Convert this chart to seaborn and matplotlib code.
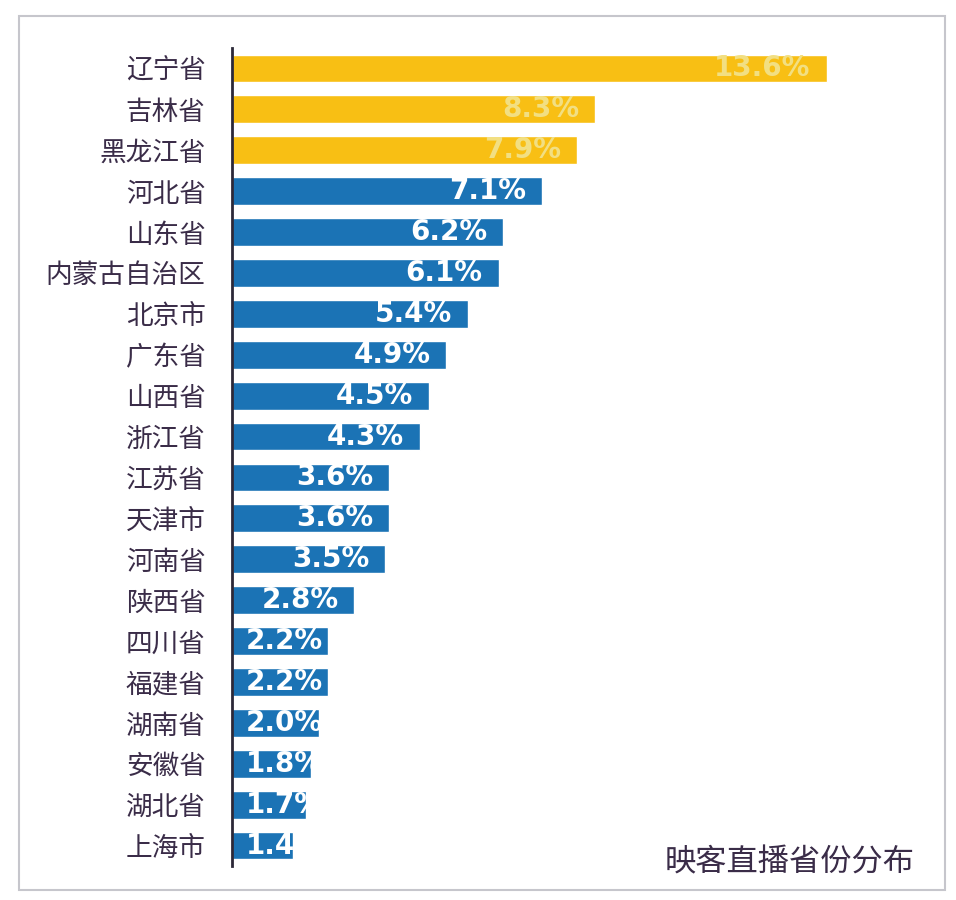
import matplotlib
matplotlib.use("Agg")
import matplotlib.pyplot as plt
import seaborn as sns
import pandas as pd
from matplotlib.patches import Rectangle

provinces = ["辽宁省", "吉林省", "黑龙江省", "河北省", "山东省", "内蒙古自治区", "北京市",
             "广东省", "山西省", "浙江省", "江苏省", "天津市", "河南省", "陕西省",
             "四川省", "福建省", "湖南省", "安徽省", "湖北省", "上海市"]
shares = [13.6, 8.3, 7.9, 7.1, 6.2, 6.1, 5.4, 4.9, 4.5, 4.3, 3.6, 3.6, 3.5, 2.8,
          2.2, 2.2, 2.0, 1.8, 1.7, 1.4]
groups = ["top3"] * 3 + ["other"] * 17
title = "映客直播省份分布"

df = pd.DataFrame({"province": provinces, "share": shares, "group": groups})

sns.set_theme(style="white")
plt.rcParams['font.family'] = ['Noto Sans CJK SC', 'DejaVu Sans']

fig = plt.figure(figsize=(9.56, 9.0), dpi=100)
ax = fig.add_axes([232 / 956, 1 - 866 / 900, 704 / 956, 818 / 900])

palette = {"top3": "#f8bf14", "other": "#1b73b5"}
sns.barplot(data=df, y="province", x="share", hue="group", palette=palette,
            order=provinces, dodge=False, legend=False, width=0.68,
            saturation=1, ax=ax)

ax.set_xlim(0, 16.1)
ax.set_ylim(19.5, -0.5)
ax.set_xlabel("")
ax.set_ylabel("")
ax.set_xticks([])
for s in ["top", "right", "bottom"]:
    ax.spines[s].set_visible(False)
ax.spines["left"].set_color("#2b2838")
ax.spines["left"].set_linewidth(2)
ax.tick_params(axis="y", length=0, pad=19, labelsize=19.2, labelcolor="#3a2c48")

# value labels inside bars, clipped to the bar
bars_sorted = sorted(ax.patches, key=lambda p: p.get_y())
fig.canvas.draw()
renderer = fig.canvas.get_renderer()
px_per_unit = ax.transData.transform((1, 0))[0] - ax.transData.transform((0, 0))[0]
left_px = ax.transData.transform((0, 0))[0]
for bar, v, g in zip(bars_sorted, shares, groups):
    yc = bar.get_y() + bar.get_height() / 2
    color = "#f2df82" if g == "top3" else "white"
    t = ax.text(v - 16 / px_per_unit, yc, f"{v:.1f}%", ha="right", va="center",
                fontsize=20, fontweight="bold", color=color,
                family=["DejaVu Sans"])
    bb = t.get_window_extent(renderer)
    if bb.x0 < left_px + 14:
        t.set_ha("left")
        t.set_x(14 / px_per_unit)
    t.set_clip_path(bar)

# outer frame
fig.patches.append(Rectangle((19 / 956, 1 - 890 / 900), (945 - 19) / 956, (890 - 16) / 900,
                             transform=fig.transFigure, fill=False,
                             edgecolor="#c6c6cc", linewidth=1.5))

fig.text(915 / 956, 1 - 862 / 900, title, ha="right", va="center",
         fontsize=22.5, color="#3a2c48")

fig.savefig("out.png", dpi=100)
